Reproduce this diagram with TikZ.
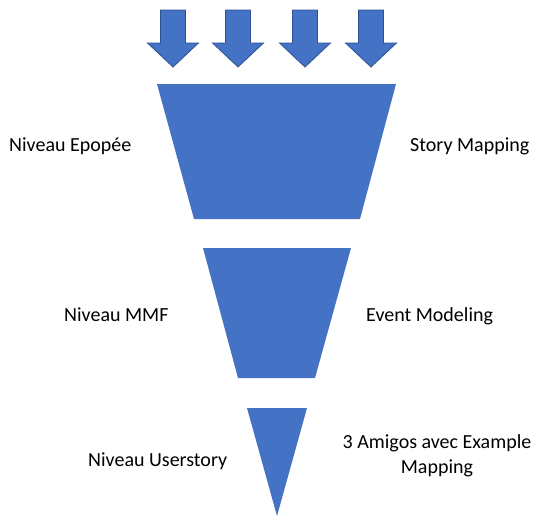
\documentclass[tikz,border=0pt]{standalone}
\usepackage{fontspec}
\setmainfont{Carlito}
\usepackage{tikz}

\definecolor{funnelblue}{HTML}{4472C4}
\definecolor{funneledge}{HTML}{2F528F}

\begin{document}
\begin{tikzpicture}[x=1pt,y=-1pt,
  lbl/.style={anchor=base west,inner sep=0pt,font=\fontsize{20}{25}\selectfont}]
\useasboundingbox (0,0) rectangle (541,520);

% arrows at the top
\foreach \c in {173,238,305,371}{
\draw[funneledge,fill=funnelblue,line width=0.8pt]
  (\c-12.5,10) -- (\c+12.5,10) -- (\c+12.5,43) -- (\c+25.5,43) -- (\c,67)
  -- (\c-25.5,43) -- (\c-12.5,43) -- cycle;
}

% funnel
\fill[funnelblue] (157,84) -- (396,84) -- (360,219) -- (194,219) -- cycle;
\fill[funnelblue] (203,248) -- (351,248) -- (315,378) -- (238,378) -- cycle;
\fill[funnelblue] (247,408) -- (307,408) -- (277,516) -- cycle;

\node [lbl] (epo) at(9,151){Niveau Epopée};
\node [lbl] (sm) at(410,151){Story Mapping};

\node [lbl] (mmf) at(64,321){Niveau MMF};
\node [lbl] (em) at(366,321){Event Modeling};

\node [lbl] (us) at(88,466){Niveau Userstory};
\node [anchor=base,inner sep=0pt,align=center,font=\fontsize{20}{25}\selectfont] (ama) at(437,473){3 Amigos avec Example\\Mapping};
\end{tikzpicture}
\end{document}
